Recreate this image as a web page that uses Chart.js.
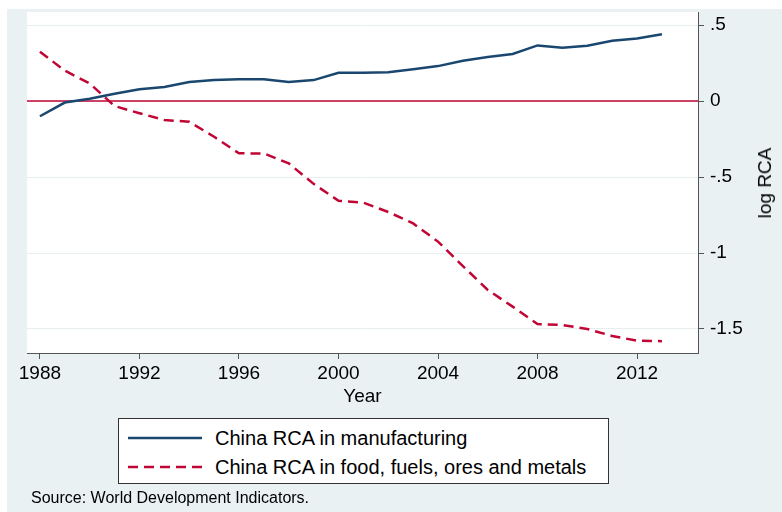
<!DOCTYPE html>
<html>
<head>
<meta charset="utf-8">
<script src="https://cdn.jsdelivr.net/npm/chart.js@4"></script>
<style>
  body { margin: 0; background: #fff; font-family: 'Liberation Sans', Arial, sans-serif; }
  #page { position: relative; width: 782px; height: 512px; overflow: hidden; }
  #frame { position: absolute; left: 7px; top: 9px; right: 0; bottom: 0; background: #e9f1f3; }
  #chart { position: absolute; left: 0; top: 0; }
  #ytitle { position: absolute; left: 765px; top: 183px; transform: translate(-50%, -50%) rotate(-90deg);
            font-size: 19px; white-space: nowrap; color: #000; }
  #legend { position: absolute; left: 118px; top: 418px; width: 489px; height: 64px;
            background: #fff; border: 1px solid #333; }
  .row { position: absolute; left: 0; height: 26px; display: flex; align-items: center; font-size: 20px; color: #000; }
  .row svg { margin-left: 9px; margin-right: 13px; }
  #source { position: absolute; left: 31px; top: 489px; font-size: 16px; color: #000; }
</style>
</head>
<body>
<div id="page">
  <div id="frame"></div>
  <canvas id="chart" width="782" height="512"></canvas>
  <div id="ytitle">log RCA</div>
  <div id="legend">
    <div class="row" style="top:6px">
      <svg width="74" height="4"><line x1="0" y1="2" x2="74" y2="2" stroke="#1a476f" stroke-width="2.5"/></svg>
      <span id="lab0"></span>
    </div>
    <div class="row" style="top:35px">
      <svg width="74" height="4"><line x1="0" y1="2" x2="74" y2="2" stroke="#c10534" stroke-width="2.5" stroke-dasharray="10 6"/></svg>
      <span id="lab1"></span>
    </div>
  </div>
  <div id="source">Source: World Development Indicators.</div>
</div>
<script>
const years = [1988, 1989, 1990, 1991, 1992, 1993, 1994, 1995, 1996, 1997, 1998, 1999, 2000,
               2001, 2002, 2003, 2004, 2005, 2006, 2007, 2008, 2009, 2010, 2011, 2012, 2013];
const manufacturing = [-0.10, -0.01, 0.015, 0.048, 0.077, 0.092, 0.125, 0.138, 0.143, 0.143, 0.125, 0.138, 0.186,
                       0.186, 0.19, 0.21, 0.23, 0.265, 0.29, 0.31, 0.366, 0.35, 0.364, 0.397, 0.412, 0.44];
const foodFuels = [0.325, 0.20, 0.116, -0.033, -0.08, -0.125, -0.136, -0.235, -0.344, -0.345, -0.41, -0.545, -0.656,
                   -0.669, -0.73, -0.805, -0.925, -1.086, -1.243, -1.353, -1.467, -1.474, -1.50, -1.546, -1.577, -1.58];
const seriesNames = ['China RCA in manufacturing', 'China RCA in food, fuels, ores and metals'];
const xTicks = [1988, 1992, 1996, 2000, 2004, 2008, 2012];
const yTicks = [-1.5, -1, -0.5, 0, 0.5];
const xRange = [1987.48, 2014.45];
const yRange = [-1.658, 0.586];

document.getElementById('lab0').textContent = seriesNames[0];
document.getElementById('lab1').textContent = seriesNames[1];

const font = { family: "'Liberation Sans', Arial, sans-serif", size: 19 };

// white plot region, as in the Stata graph
const plotBg = {
  id: 'plotBg',
  beforeDraw(chart) {
    const a = chart.chartArea;
    chart.ctx.save();
    chart.ctx.fillStyle = '#fff';
    chart.ctx.fillRect(a.left, a.top, a.right - a.left, a.bottom - a.top);
    chart.ctx.restore();
  }
};

new Chart(document.getElementById('chart'), {
  type: 'line',
  data: {
    datasets: [{
      label: seriesNames[0],
      data: years.map((y, i) => ({ x: y, y: manufacturing[i] })),
      borderColor: '#1a476f',
      borderWidth: 2.5,
      pointRadius: 0,
      order: 1
    }, {
      label: seriesNames[1],
      data: years.map((y, i) => ({ x: y, y: foodFuels[i] })),
      borderColor: '#c10534',
      borderWidth: 2.5,
      borderDash: [10, 6],
      pointRadius: 0,
      order: 2
    }, {
      label: 'zero',
      data: xRange.map(x => ({ x: x, y: 0 })),
      borderColor: '#c10534',
      borderWidth: 1.5,
      pointRadius: 0,
      order: 3
    }]
  },
  options: {
    responsive: false,
    animation: false,
    events: [],
    layout: { padding: { left: 27, top: 12, right: 0, bottom: 104 } },
    plugins: { legend: { display: false }, tooltip: { enabled: false } },
    scales: {
      x: {
        type: 'linear',
        min: xRange[0],
        max: xRange[1],
        afterBuildTicks: s => { s.ticks = xTicks.map(v => ({ value: v })); },
        afterFit: s => { s.height = 55; s.paddingLeft = 0; s.paddingRight = 0; },
        ticks: { font: font, color: '#000', padding: 3, maxRotation: 0, autoSkip: false,
                 callback: v => String(v) },
        grid: { drawOnChartArea: false, tickLength: 6, tickColor: '#555' },
        border: { color: '#555', width: 1 },
        title: { display: true, text: 'Year', font: font, color: '#000', padding: 0 }
      },
      y: {
        position: 'right',
        min: yRange[0],
        max: yRange[1],
        afterBuildTicks: s => { s.ticks = yTicks.map(v => ({ value: v })); },
        afterFit: s => { s.width = 84; s.paddingTop = 0; s.paddingBottom = 0; },
        ticks: { font: font, color: '#000', padding: 6,
                 callback: v => v === 0 ? '0' : String(v).replace('0.', '.') },
        grid: { color: '#e6eef0', lineWidth: 1, tickLength: 6, tickColor: '#555' },
        border: { color: '#555', width: 1 }
      }
    }
  },
  plugins: [plotBg]
});
</script>
</body>
</html>
